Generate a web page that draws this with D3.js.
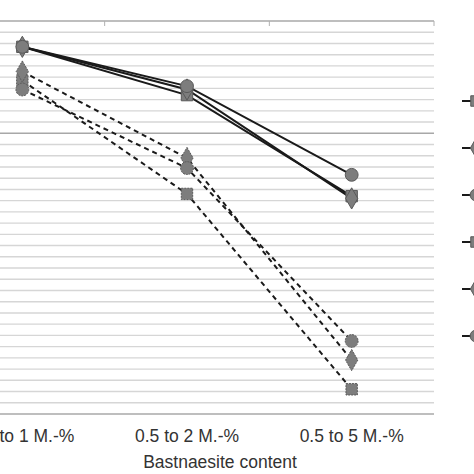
<!DOCTYPE html>
<html><head><meta charset="utf-8">
<script src="https://cdn.jsdelivr.net/npm/d3@7"></script>
<style>body{margin:0;background:#fff}svg{display:block}</style>
</head><body><svg id="chart" width="474" height="474"></svg>
<script>
// DATA
const categories = ['0.5 to 1 M.-%', '0.5 to 2 M.-%', '0.5 to 5 M.-%'];
const solidSquare = [32.7, 28.4, 19.4];
const solidDiamond = [32.7, 28.9, 19.2];
const solidCircle = [32.7, 29.2, 21.3];
const dashSquare = [29.7, 19.6, 2.2];
const dashDiamond = [30.5, 22.8, 4.8];
const dashCircle = [28.9, 21.9, 6.5];
const series = [
  { values: solidSquare, shape: d3.symbolSquare, dashed: false },
  { values: solidDiamond, shape: d3.symbolDiamond, dashed: false },
  { values: solidCircle, shape: d3.symbolCircle, dashed: false },
  { values: dashSquare, shape: d3.symbolSquare, dashed: true },
  { values: dashDiamond, shape: d3.symbolDiamond, dashed: true },
  { values: dashCircle, shape: d3.symbolCircle, dashed: true }
];

// SETUP
const svg = d3.select('svg');
const x = d3.scaleBand().domain(categories).range([-60, 434]);
const y = d3.scaleLinear().domain([0, 35]).range([414, 21]);

// GRID
svg.append('g').selectAll('line').data(d3.range(0, 36)).enter().append('line')
  .attr('x1', 0).attr('x2', 434)
  .attr('y1', d => y(d)).attr('y2', d => y(d))
  .attr('stroke', d => (d === 25 || d === 35 || d === 0) ? '#a8a8a8' : '#d6d6d6')
  .attr('stroke-width', 1.4);

// top tick marks
svg.append('g').selectAll('line').data(categories.slice(1)).enter().append('line')
  .attr('x1', d => x(d)).attr('x2', d => x(d))
  .attr('y1', 21).attr('y2', 26).attr('stroke', '#b0b0b0');
svg.append('line').attr('x1', 434).attr('x2', 434).attr('y1', 21).attr('y2', 26).attr('stroke', '#b0b0b0');

// LINES + MARKERS
const cx = c => x(c) + x.bandwidth() / 2;
const line = d3.line().x((d, i) => cx(categories[i])).y(d => y(d));
series.forEach(s => {
  svg.append('path').datum(s.values).attr('d', line)
    .attr('fill', 'none').attr('stroke', '#1a1a1a').attr('stroke-width', 2)
    .attr('stroke-dasharray', s.dashed ? '5,4' : null);
});
series.forEach(s => {
  svg.append('g').selectAll('path').data(s.values).enter().append('path')
    .attr('d', d3.symbol().type(s.shape).size(130))
    .attr('transform', (d, i) => `translate(${cx(categories[i])},${y(d)})`)
    .attr('fill', '#7d7d7d').attr('stroke', '#5a5a5a')
    .attr('stroke-dasharray', s.dashed ? '2,1' : null);
});

// X LABELS
svg.append('g').selectAll('text').data(categories).enter().append('text')
  .attr('x', d => cx(d)).attr('y', 442).attr('text-anchor', 'middle')
  .style('font', '17.5px "Liberation Sans", Arial, sans-serif').attr('fill', '#333')
  .text(d => d);
svg.append('text').attr('x', 220).attr('y', 468).attr('text-anchor', 'middle')
  .style('font', '17.5px "Liberation Sans", Arial, sans-serif').attr('fill', '#333')
  .text('Bastnaesite content');

// LEGEND (cut off at right edge)
const lg = svg.append('g').selectAll('g').data(series).enter().append('g')
  .attr('transform', (d, i) => `translate(462,${101 + i * 47})`);
lg.append('line').attr('x1', 0).attr('x2', 9).attr('stroke', '#1a1a1a').attr('stroke-width', 2);
lg.append('path').attr('d', d => d3.symbol().type(d.shape).size(110)())
  .attr('transform', 'translate(14,0)').attr('fill', '#7d7d7d').attr('stroke', '#5a5a5a');
</script></body></html>
